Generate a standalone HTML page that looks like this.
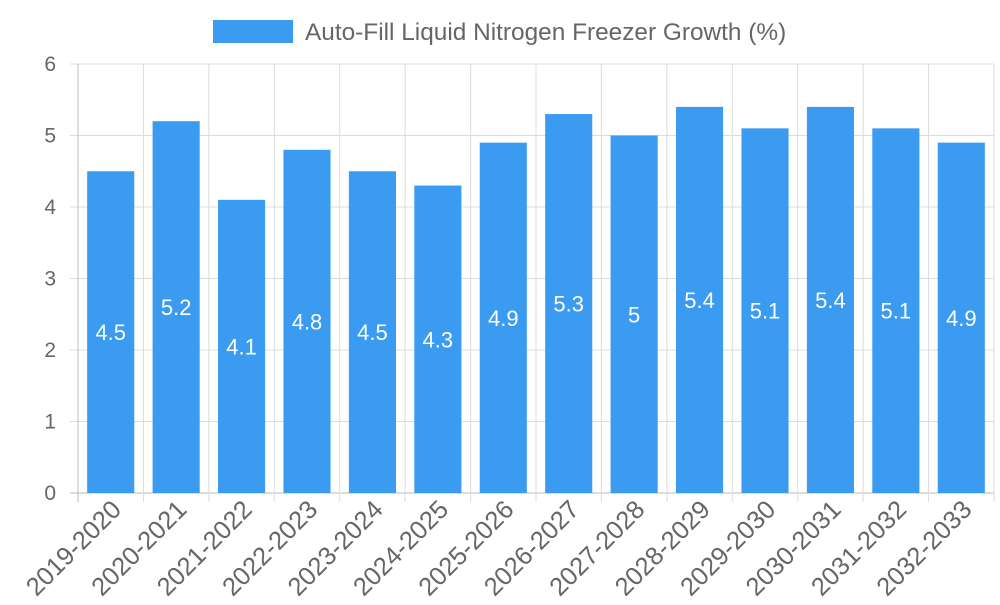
<!DOCTYPE html>
<html><head><meta charset="utf-8"><style>
body{margin:0;background:#fff;font-family:"Liberation Sans",sans-serif}
</style></head><body>
<svg id="c" width="1000" height="600" xmlns="http://www.w3.org/2000/svg"></svg>
<script>
const categories=["2019-2020","2020-2021","2021-2022","2022-2023","2023-2024","2024-2025","2025-2026","2026-2027","2027-2028","2028-2029","2029-2030","2030-2031","2031-2032","2032-2033"];
const values=[4.5,5.2,4.1,4.8,4.5,4.3,4.9,5.3,5,5.4,5.1,5.4,5.1,4.9];
const yTicks=[0,1,2,3,4,5,6];
const svg=document.getElementById('c');
const NS="http://www.w3.org/2000/svg";
const L=78,R=994,T=64,B=493,yMax=6;
const bw=(R-L)/categories.length;
const y=v=>B-(v/yMax)*(B-T);
const x=i=>L+i*bw;
function mk(t,a,p){const e=document.createElementNS(NS,t);for(const k in a)e.setAttribute(k,a[k]);(p||svg).appendChild(e);return e;}
const lg=mk('g',{});


mk('rect',{x:213,y:20,width:80,height:23,fill:'#3a9bf0'},lg);
const lt=mk('text',{x:305,y:40,'font-size':24.4,fill:'#666'},lg);lt.textContent="Auto-Fill Liquid Nitrogen Freezer Growth (%)";
yTicks.forEach(t=>{
 const g=mk('line',{x1:70,x2:R,y1:y(t),y2:y(t),stroke:t===0?'#bbb':'#dcdcdc','stroke-width':1});
 
 
 const tx=mk('text',{x:56,y:y(t)+7,'text-anchor':'end','font-size':21,fill:'#666'});
 
 
 tx.textContent=t;
});
for(let i=0;i<=categories.length;i++){
 const g=mk('line',{x1:x(i),x2:x(i),y1:T,y2:B+9,stroke:i===0?'#bbb':'#dcdcdc','stroke-width':1});
 
 
}
categories.forEach((c,i)=>{
 const v=values[i];
 const cx=x(i)+bw/2,w=bw*0.72;
 const r=mk('rect',{x:cx-w/2,y:y(v),width:w,height:B-y(v),fill:'#3a9bf0'});
 
 
 const vt=mk('text',{x:cx,y:(y(v)+B)/2+8,'text-anchor':'middle','font-size':22,fill:'#fff'});
 
 
 vt.textContent=v;
 const xl=mk('text',{x:cx+12,y:B+18,'text-anchor':'end','font-size':25.5,fill:'#666',transform:`rotate(-45 ${cx+12} ${B+18})`});
 
 
 xl.textContent=c;
});
</script>
</body></html>
